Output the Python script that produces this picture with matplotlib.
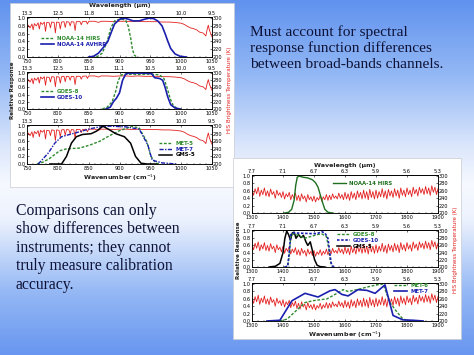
import numpy as np
import matplotlib
matplotlib.use("Agg")
import matplotlib.pyplot as plt
from matplotlib.patches import Rectangle

W, H = 474, 355

# ---- long-wave window (left figure) ----
lw_wn = [750, 752, 755, 758, 760, 762, 765, 768, 770, 772, 775, 778, 780, 782,
         786, 788, 790, 794, 796, 798, 802, 804, 806, 810, 812, 814, 818, 820,
         822, 826, 828, 830, 836, 838, 840, 846, 848, 850, 860, 866, 870, 880,
         890, 900, 910, 920, 930, 940, 950, 960, 970, 980, 990, 1000, 1005,
         1010, 1015, 1020, 1025, 1030, 1035, 1038, 1040, 1042, 1044, 1046,
         1048, 1050]
lw_bt = [268, 282, 275, 285, 270, 286, 280, 288, 272, 289, 284, 290, 266, 289,
         288, 275, 290, 289, 262, 290, 289, 272, 290, 291, 276, 291, 290, 280,
         291, 290, 268, 291, 291, 283, 291, 292, 285, 292, 292, 289, 292, 292,
         291, 292, 292, 291, 292, 291, 291, 291, 290, 290, 289, 287, 284,
         279, 275, 273, 270, 264, 262, 258, 254, 270, 282, 268,
         260, 252]

hirs_lw_wn = [855, 865, 872, 880, 886, 892, 898, 905, 910, 914, 918, 921, 924, 928]
hirs_lw_r = [0, 0.02, 0.1, 0.4, 0.75, 0.93, 0.96, 0.97, 0.95, 0.8, 0.5, 0.2, 0.05, 0]
avhrr_wn = [850, 858, 866, 874, 881, 887, 892, 900, 908, 915, 922, 932, 940, 948,
            955, 962, 969, 974, 978, 983, 990, 998, 1008]
avhrr_r = [0, 0.02, 0.1, 0.25, 0.4, 0.65, 0.85, 0.97, 1.0, 0.97, 0.93, 0.93, 0.97,
           1.0, 0.99, 0.93, 0.8, 0.6, 0.42, 0.22, 0.08, 0.02, 0]

goes8_lw_wn = [872, 880, 888, 894, 898, 903, 910, 930, 950, 965, 972, 977, 982,
               987, 993, 1000]
goes8_lw_r = [0, 0.05, 0.2, 0.5, 0.8, 0.95, 0.97, 0.96, 0.97, 0.95, 0.85, 0.6, 0.3,
              0.1, 0.02, 0]
goes10_lw_wn = [878, 885, 890, 895, 900, 905, 910, 915, 935, 952, 957, 965, 970,
                974, 978, 983, 990, 998]
goes10_lw_r = [0, 0.05, 0.2, 0.3, 0.45, 0.8, 0.97, 1.0, 1.0, 0.99, 0.87, 0.85, 0.8,
               0.6, 0.35, 0.12, 0.03, 0]

met5_wn = [766, 776, 787, 803, 814, 835, 852, 868, 884, 900, 913, 919, 932, 944,
           951, 959, 964]
met5_r = [0, 0.05, 0.15, 0.35, 0.4, 0.42, 0.5, 0.6, 0.75, 0.88, 0.95, 1.0, 0.95,
          0.6, 0.2, 0.03, 0]
met7_lw_wn = [768, 774, 785, 795, 806, 819, 835, 852, 868, 884, 911, 932, 946, 953,
              969, 992]
met7_lw_r = [0, 0.1, 0.3, 0.55, 0.72, 0.78, 0.85, 0.93, 0.98, 1.0, 0.98, 0.92, 0.5,
             0.1, 0.03, 0]
gms5_lw_wn = [787, 806, 814, 822, 830, 840, 854, 863, 873, 884, 894, 908, 918, 926,
              935, 945, 960]
gms5_lw_r = [0, 0, 0.2, 0.55, 0.72, 0.78, 0.8, 0.87, 1.0, 0.9, 0.8, 0.72, 0.55, 0.2,
             0.02, 0, 0]

lw_ticks = [750, 800, 850, 900, 950, 1000, 1050]
lw_wl = ["13.3", "12.5", "11.8", "11.1", "10.5", "10.0", "9.5"]

# ---- water-vapour band (right figure) ----
wv_wn = np.arange(1300, 1905, 5)
wv_bt = [262, 248, 266, 252, 270, 245, 262, 250, 268, 246,
         260, 244, 265, 250, 258, 240, 262, 248, 255, 242,
         258, 238, 252, 244, 256, 236, 250, 240, 254, 234,
         248, 232, 252, 238, 246, 230, 250, 236, 244, 232,
         246, 230, 242, 235, 248, 232, 244, 236, 250, 234,
         248, 236, 252, 240, 246, 238, 254, 240, 250, 236,
         256, 238, 252, 234, 258, 240, 254, 236, 260, 242,
         256, 238, 262, 240, 258, 236, 264, 242, 258, 238,
         262, 240, 258, 244, 266, 242, 260, 238, 264, 246,
         260, 242, 266, 246, 262, 240, 268, 248, 262, 244,
         268, 250, 262, 244, 270, 252, 264, 246, 270, 254,
         266, 250, 272, 252, 268, 248, 274, 256, 270, 250,
         266]

hirs_wv_wn = [1405, 1418, 1428, 1436, 1441, 1446, 1452, 1465, 1480, 1495, 1505,
              1513, 1520, 1527, 1535, 1545, 1560]
hirs_wv_r = [0, 0.02, 0.1, 0.35, 0.75, 0.97, 1.0, 0.97, 0.95, 0.9, 0.82, 0.7, 0.5,
             0.3, 0.1, 0.02, 0]
gms5_wv_wn = [1355, 1375, 1390, 1400, 1406, 1412, 1418, 1424, 1430, 1436, 1442,
              1450, 1458, 1466, 1474, 1480, 1488, 1495, 1502, 1510, 1520, 1535]
gms5_wv_r = [0, 0.02, 0.1, 0.4, 0.8, 1.0, 0.9, 0.75, 0.95, 0.97, 0.8, 0.9, 0.82,
             0.88, 0.7, 0.6, 0.7, 0.45, 0.2, 0.05, 0.01, 0]
goes8_wv_wn = [1405, 1415, 1420, 1425, 1430, 1450, 1470, 1490, 1510, 1525, 1540,
               1548, 1553, 1558, 1565]
goes8_wv_r = [0, 0.02, 0.3, 0.85, 0.92, 0.88, 0.8, 0.85, 0.9, 0.92, 0.85, 0.5, 0.15,
              0.03, 0]
goes10_wv_wn = [1405, 1415, 1420, 1425, 1432, 1460, 1490, 1510, 1525, 1535, 1545,
                1550, 1555, 1560, 1568]
goes10_wv_r = [0, 0.02, 0.4, 0.9, 0.95, 0.94, 0.93, 0.93, 0.98, 0.95, 0.8, 0.45,
               0.12, 0.02, 0]
met6_wn = [1390, 1413, 1445, 1471, 1497, 1542, 1574, 1594, 1610, 1639, 1671, 1703,
           1723, 1745, 1767, 1787, 1810]
met6_r = [0, 0.05, 0.3, 0.5, 0.55, 0.6, 0.75, 0.85, 0.8, 0.85, 0.92, 0.98, 1.0,
          0.5, 0.25, 0.05, 0]
met7_wv_wn = [1348, 1390, 1429, 1471, 1513, 1552, 1568, 1590, 1610, 1642, 1671,
              1697, 1729, 1755, 1787, 1819, 1852]
met7_wv_r = [0, 0.02, 0.55, 0.75, 0.65, 0.82, 0.85, 0.72, 0.68, 0.85, 0.83, 0.75,
             0.98, 0.15, 0.03, 0.02, 0]

wv_ticks = [1300, 1400, 1500, 1600, 1700, 1800, 1900]
wv_wl = ["7.7", "7.1", "6.7", "6.3", "5.9", "5.6", "5.3"]

TEXT_TOP = ("Must account for spectral\nresponse function differences\n"
            "between broad-bands channels.")
TEXT_BOT = ("Comparisons can only\nshow differences between\n"
            "instruments; they cannot\ntruly measure calibration\naccuracy.")

RED = "#e3201f"
GREEN = "#2e8b2e"
DGREEN = "#1f6f1f"
BLUE = "#1a1fae"
INK = "#0e1236"
FS = 3.6

fig = plt.figure(figsize=(W / 100, H / 100), dpi=100)

# slide background: blue -> white -> blue
stops_y = [0.0, 0.22, 0.42, 0.52, 0.62, 0.82, 1.0]
stops_c = np.array([[96, 146, 238], [150, 186, 245], [222, 232, 252],
                    [246, 249, 255], [236, 242, 253], [150, 185, 245],
                    [104, 150, 240]]) / 255
yy = np.linspace(0, 1, H)
grad = np.stack([np.interp(yy, stops_y, stops_c[:, k]) for k in range(3)], axis=-1)
bg = fig.add_axes([0, 0, 1, 1], zorder=-10)
bg.imshow(grad[:, None, :], aspect="auto", extent=[0, 1, 0, 1])
bg.axis("off")


def px_rect(x0, y0, x1, y1):
    return [x0 / W, 1 - y1 / H, (x1 - x0) / W, (y1 - y0) / H]


for box in [(10, 3, 234, 187), (233, 158, 461, 339)]:
    x0, y0, x1, y1 = box
    fig.add_artist(Rectangle((x0 / W, 1 - y1 / H), (x1 - x0) / W, (y1 - y0) / H,
                             transform=fig.transFigure, facecolor="white",
                             edgecolor="#c9cbd3", linewidth=0.5, zorder=-5))


def panel(rect, xlim, xticks, wl, spec_x, spec_y, minor):
    ax = fig.add_axes(px_rect(*rect))
    tw = ax.twinx()
    ax.set_zorder(tw.get_zorder() + 1)
    ax.patch.set_visible(False)
    ax.set_xlim(xlim)
    ax.set_ylim(0, 1.03)
    ax.set_xticks(xticks)
    ax.set_xticks(np.arange(xlim[0], xlim[1] + 1, minor), minor=True)
    ax.set_yticks([0, 0.2, 0.4, 0.6, 0.8, 1.0])
    ax.set_yticklabels(["0.0", "0.2", "0.4", "0.6", "0.8", "1.0"])
    ax.tick_params(labelsize=FS, length=1.6, width=0.4, pad=0.8, direction="in")
    ax.tick_params(axis="x", pad=1.6)
    ax.tick_params(which="minor", length=0.9, width=0.3, direction="in")
    tw.set_ylim(200, 303)
    tw.set_yticks([200, 220, 240, 260, 280, 300])
    tw.tick_params(labelsize=FS, length=1.6, width=0.4, pad=0.8, direction="in")
    tw.plot(spec_x, spec_y, color=RED, linewidth=0.6)
    # wavelength scale on top, labelled at the wavenumber ticks
    sec = ax.secondary_xaxis("top")
    sec.set_xticks(xticks)
    sec.set_xticklabels(wl)
    sec.tick_params(labelsize=FS, length=1.6, width=0.4, pad=0.6, direction="in")
    for a in (ax, tw):
        for s in a.spines.values():
            s.set_linewidth(0.5)
    sec.spines["top"].set_linewidth(0.5)
    return ax


def legend(ax, handles, colors, anchor):
    leg = ax.legend(handles=handles, loc="center left", bbox_to_anchor=anchor,
                    fontsize=FS + 0.3, frameon=False, handlelength=2.4,
                    handletextpad=0.6, labelspacing=0.15, borderpad=0)
    for t, c in zip(leg.get_texts(), colors):
        t.set_color(c)
        t.set_fontweight("bold")


# left figure
ax = panel((27, 17, 212, 57), (750, 1050), lw_ticks, lw_wl, lw_wn, lw_bt, 10)
l1, = ax.plot(hirs_lw_wn, hirs_lw_r, color=GREEN, lw=1.0, ls=(0, (2, 1.2)),
              label="NOAA-14 HIRS")
l2, = ax.plot(avhrr_wn, avhrr_r, color=BLUE, lw=1.2, label="NOAA-14 AVHRR")
legend(ax, [l1, l2], [GREEN, BLUE], (0.06, 0.38))

ax = panel((27, 72, 212, 109), (750, 1050), lw_ticks, lw_wl, lw_wn, lw_bt, 10)
l1, = ax.plot(goes8_lw_wn, goes8_lw_r, color=GREEN, lw=1.0, ls=(0, (2, 1.2)),
              label="GOES-8")
l2, = ax.plot(goes10_lw_wn, goes10_lw_r, color=BLUE, lw=1.2, label="GOES-10")
legend(ax, [l1, l2], [GREEN, BLUE], (0.06, 0.4))

ax = panel((27, 125, 212, 164), (750, 1050), lw_ticks, lw_wl, lw_wn, lw_bt, 10)
l1, = ax.plot(met5_wn, met5_r, color=GREEN, lw=1.0, ls=(0, (2, 1.2)), label="MET-5")
l2, = ax.plot(met7_lw_wn, met7_lw_r, color=BLUE, lw=1.0, ls=(0, (3, 1, 1, 1)),
              label="MET-7")
l3, = ax.plot(gms5_lw_wn, gms5_lw_r, color="black", lw=1.1, label="GMS-5")
legend(ax, [l1, l2, l3], [GREEN, BLUE, "black"], (0.70, 0.38))

# right figure
ax = panel((252, 175, 438, 213), (1300, 1900), wv_ticks, wv_wl, wv_wn, wv_bt, 20)
l1, = ax.plot(hirs_wv_wn, hirs_wv_r, color=DGREEN, lw=1.0, label="NOAA-14 HIRS")
legend(ax, [l1], [DGREEN], (0.42, 0.78))

ax = panel((252, 230, 438, 267), (1300, 1900), wv_ticks, wv_wl, wv_wn, wv_bt, 20)
l3, = ax.plot(gms5_wv_wn, gms5_wv_r, color="black", lw=1.1, label="GMS-5")
l1, = ax.plot(goes8_wv_wn, goes8_wv_r, color=GREEN, lw=1.0, ls=(0, (2, 1.2)),
              label="GOES-8")
l2, = ax.plot(goes10_wv_wn, goes10_wv_r, color=BLUE, lw=1.2, ls=(0, (1.5, 1)),
              label="GOES-10")
legend(ax, [l1, l2, l3], [GREEN, BLUE, "black"], (0.44, 0.72))

ax = panel((252, 283, 438, 321), (1300, 1900), wv_ticks, wv_wl, wv_wn, wv_bt, 20)
l1, = ax.plot(met6_wn, met6_r, color=GREEN, lw=1.0, ls=(0, (2, 1.2)), label="MET-6")
l2, = ax.plot(met7_wv_wn, met7_wv_r, color=BLUE, lw=1.2, label="MET-7")
legend(ax, [l1, l2], [GREEN, BLUE], (0.75, 0.86))

# axis titles shared by the stacked panels
for cx, ytop, ybot, ymid, xl, xr in [(120, 6, 178, 90, 13, 229),
                                     (345, 165, 335, 250, 238.5, 455)]:
    fig.text(cx / W, 1 - ytop / H, "Wavelength (\u03bcm)", ha="center",
             va="center", fontsize=4.6, fontweight="bold", color="#222")
    fig.text(cx / W, 1 - ybot / H, "Wavenumber (cm$^{-1}$)", ha="center",
             va="center", fontsize=4.6, fontweight="bold", color="#222")
    fig.text(xl / W, 1 - ymid / H, "Relative Response", rotation=90, ha="center",
             va="center", fontsize=4.0, fontweight="bold", color="#222")
    fig.text(xr / W, 1 - ymid / H, "HIS Brightness Temperature (K)", rotation=90,
             ha="center", va="center", fontsize=4.0, color=RED)

fig.text(250 / W, 1 - 25 / H, TEXT_TOP, ha="left", va="top",
         family=["Liberation Serif", "DejaVu Serif"], fontsize=11.1, linespacing=1.25,
         color=INK)
fig.text(16 / W, 1 - 203 / H, TEXT_BOT, ha="left", va="top",
         family=["Liberation Serif", "DejaVu Serif"], fontsize=11.3, linespacing=1.2,
         color=INK)

fig.savefig("out.png", dpi=100)
